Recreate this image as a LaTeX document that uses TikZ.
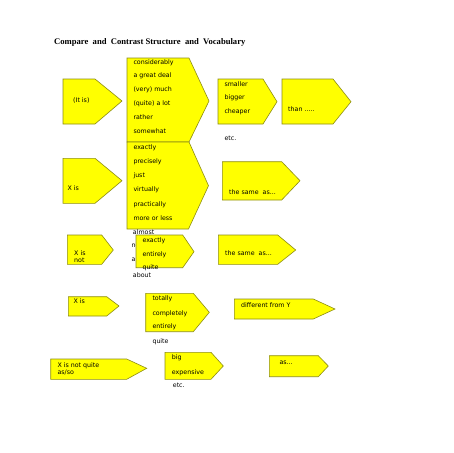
\documentclass[tikz,border=0pt]{standalone}
\usepackage{fontspec}
\setsansfont{DejaVu Sans}
\setmainfont{Liberation Serif}
\definecolor{shpfill}{RGB}{255,255,0}
\definecolor{shpline}{RGB}{140,140,20}
\begin{document}
\begin{tikzpicture}[x=1pt,y=-1pt,
  shp/.style={fill=shpfill,draw=shpline,line width=0.6pt,line join=miter},
  lbl/.style={anchor=west,inner sep=0pt,font=\sffamily\fontsize{6.3}{7.5}\selectfont,align=left},
  ttl/.style={anchor=west,inner sep=0pt,font=\rmfamily\bfseries\fontsize{8.6}{10}\selectfont}]
\useasboundingbox[fill=white] (0,0) rectangle (453,453);
\node[ttl] (title) at (54,42) {Compare\ \ and\ \ Contrast Structure\ \ and\ \ Vocabulary};
% row 1
\draw[shp] (63,79) -- (95,79) -- (122,101) -- (95,124) -- (63,124) -- cycle;
\node[lbl] (itis) at (73,101) {(It is)};
\draw[shp] (127,58) -- (189,58) -- (209,101) -- (189,142) -- (127,142) -- cycle;
\node[lbl] (a1) at (133.3,62.3) {considerably};
\node[lbl] (a2) at (133.3,76) {a great deal};
\node[lbl] (a3) at (133.3,90) {(very)\ much};
\node[lbl] (a4) at (133.3,103.7) {(quite) a lot};
\node[lbl] (a5) at (133.3,117.3) {rather};
\node[lbl] (a6) at (133.3,131) {somewhat};
\draw[shp] (218,79) -- (263,79) -- (277,101.7) -- (263,124) -- (218,124) -- cycle;
\node[lbl] (b1) at (224.3,84) {smaller};
\node[lbl] (b2) at (224.3,97.7) {bigger};
\node[lbl] (b3) at (224.3,111.7) {cheaper};
\node[lbl] (b4) at (224.3,138.3) {etc.};
\draw[shp] (282,79) -- (333,79) -- (351,101.7) -- (333,124) -- (282,124) -- cycle;
\node[lbl] (than) at (288,109.3) {than .....};
% row 2
\draw[shp] (127,142) -- (189,142) -- (208.5,185.7) -- (188.5,229) -- (127,229) -- cycle;
\node[lbl] (c1) at (133.3,147.7) {exactly};
\node[lbl] (c2) at (133.3,161.7) {precisely};
\node[lbl] (c3) at (133.3,175.7) {just};
\node[lbl] (c4) at (133.3,190) {virtually};
\node[lbl] (c5) at (133.3,204.3) {practically};
\node[lbl] (c6) at (133.3,218) {more\ or less};
\draw[shp] (63,158.3) -- (95,158.3) -- (122,180.7) -- (95,203.3) -- (63,203.3) -- cycle;
\node[lbl] (xis1) at (67.3,188.3) {X is};
\draw[shp] (222.3,161.7) -- (281.7,161.7) -- (300,180.7) -- (281.7,200) -- (222.3,200) -- cycle;
\node[lbl] (same1) at (229,192.3) {the same\ \ as...};
% row 3
\node[lbl] (d1) at (132.7,231.7) {almost};
\node[lbl] (d2) at (131.5,245.5) {nearly};
\node[lbl] (d3) at (131.5,259.5) {approximately};
\node[lbl] (d4) at (132.7,275) {about};
\draw[shp] (67.3,235) -- (101.7,235) -- (113.3,250) -- (101.7,264.3) -- (67.3,264.3) -- cycle;
\node[lbl,font=\sffamily\fontsize{6.3}{6.7}\selectfont] (xisnot) at (74,256.6) {X is\\not};
\draw[shp] (136,235) -- (182.7,235) -- (194,251.7) -- (182.7,267.7) -- (136,267.7) -- cycle;
\node[lbl] (e1) at (142.3,240.7) {exactly};
\node[lbl] (e2) at (142.3,254.3) {entirely};
\node[lbl] (e3) at (142.3,267.7) {quite};
\draw[shp] (218.3,235) -- (277.7,235) -- (295.7,250) -- (277.7,264.3) -- (218.3,264.3) -- cycle;
\node[lbl] (same2) at (225,253.3) {the same\ \ as...};
% row 4
\draw[shp] (68.3,296.7) -- (106.7,296.7) -- (119,306) -- (106.7,316) -- (68.3,316) -- cycle;
\node[lbl] (xis2) at (73.3,301) {X is};
\draw[shp] (145.7,293.3) -- (193.3,293.3) -- (209.3,312.3) -- (193.3,331.7) -- (145.7,331.7) -- cycle;
\node[lbl] (f1) at (152.3,299) {totally};
\node[lbl] (f2) at (152.3,313.3) {completely};
\node[lbl] (f3) at (152.3,326.7) {entirely};
\node[lbl] (f4) at (152.3,341.7) {quite};
\draw[shp] (234.3,299) -- (313.3,299) -- (335,309) -- (313.3,319) -- (234.3,319) -- cycle;
\node[lbl] (diff) at (241,305) {different\ from\ Y};
% row 5
\draw[shp] (50.7,359) -- (126.7,359) -- (146.7,368.3) -- (126.7,379.3) -- (50.7,379.3) -- cycle;
\node[lbl,font=\sffamily\fontsize{6.3}{7}\selectfont] (xnq) at (57.3,368.8) {X is not quite\\as/so};
\draw[shp] (165,352.3) -- (211,352.3) -- (223.3,366) -- (211,379.3) -- (165,379.3) -- cycle;
\node[lbl] (g1) at (171.7,357.3) {big};
\node[lbl] (g2) at (171.7,372.3) {expensive};
\node[lbl] (g3) at (172.7,385) {etc.};
\draw[shp] (269.3,355.7) -- (318.3,355.7) -- (328.3,366) -- (318.3,376.7) -- (269.3,376.7) -- cycle;
\node[lbl] (as) at (279.3,362.3) {as...};
\end{tikzpicture}
\end{document}
